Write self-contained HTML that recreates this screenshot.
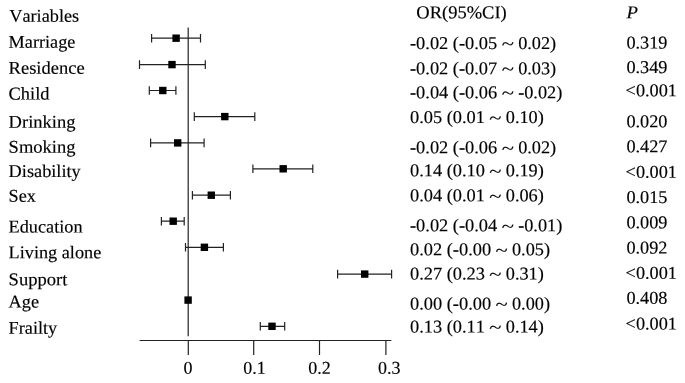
<!DOCTYPE html>
<html lang="en"><head><meta charset="utf-8"><title>Forest plot</title>
<style>
html,body{margin:0;padding:0;background:#fff;}
body{width:685px;height:383px;overflow:hidden;}
svg{display:block;}
text{font-family:"Liberation Serif",serif;font-size:18px;fill:#000;stroke:#000;stroke-width:0.16px;font-kerning:none;}
.l{stroke:#222;stroke-width:1.2;fill:none;}
</style></head><body>
<svg width="685" height="383" viewBox="0 0 685 383">
<rect width="685" height="383" fill="#fff"/>

<text transform="translate(9.30 21.75) rotate(0.05) scale(1.013 1)">Variables</text>
<text transform="translate(416.30 18.15) rotate(0.05) scale(1.028 1)">OR(95%CI)</text>
<text transform="translate(626.60 18.35) rotate(0.05) scale(1.040 1)" font-style="italic">P</text>
<line class="l" x1="188.2" y1="27.6" x2="188.2" y2="336.2"/>
<line class="l" x1="139.6" y1="340.5" x2="391.3" y2="340.5"/>
<line class="l" x1="188.3" y1="340.5" x2="188.3" y2="355"/>
<text transform="translate(187.90 373.65) rotate(0.05) scale(1.000 1)" text-anchor="middle">0</text>
<line class="l" x1="253.7" y1="340.5" x2="253.7" y2="355"/>
<text transform="translate(254.40 373.65) rotate(0.05) scale(1.000 1)" text-anchor="middle">0.1</text>
<line class="l" x1="319.5" y1="340.5" x2="319.5" y2="355"/>
<text transform="translate(319.50 373.65) rotate(0.05) scale(1.000 1)" text-anchor="middle">0.2</text>
<line class="l" x1="385.9" y1="340.5" x2="385.9" y2="355"/>
<text transform="translate(389.30 373.65) rotate(0.05) scale(1.000 1)" text-anchor="middle">0.3</text>
<text transform="translate(8.60 47.75) rotate(0.05) scale(1.013 1)">Marriage</text>
<path class="l" d="M151.6 38.2H200.5M151.6 33.9v8.6M200.5 33.9v8.6"/>
<rect x="172.4" y="34.5" width="7.4" height="7.4" fill="#000"/>
<text transform="translate(410.00 48.95) rotate(0.05) scale(1.021 1)">-0.02 (-0.05</text>
<text transform="translate(501.69 49.85) rotate(0.05) scale(1.250 1)">~</text>
<text transform="translate(518.16 48.95) rotate(0.05) scale(1.015 1)">0.02)</text>
<text transform="translate(626.40 48.50) rotate(0.05) scale(1.015 1)">0.319</text>
<text transform="translate(8.60 73.65) rotate(0.05) scale(1.029 1)">Residence</text>
<path class="l" d="M139.5 64.6H205.3M139.5 60.3v8.6M205.3 60.3v8.6"/>
<rect x="168.3" y="60.9" width="7.4" height="7.4" fill="#000"/>
<text transform="translate(410.00 74.15) rotate(0.05) scale(1.021 1)">-0.02 (-0.07</text>
<text transform="translate(501.69 75.05) rotate(0.05) scale(1.250 1)">~</text>
<text transform="translate(518.16 74.15) rotate(0.05) scale(1.015 1)">0.03)</text>
<text transform="translate(626.40 73.05) rotate(0.05) scale(1.015 1)">0.349</text>
<text transform="translate(8.60 99.55) rotate(0.05) scale(1.023 1)">Child</text>
<path class="l" d="M149.3 90.5H175.9M149.3 86.2v8.6M175.9 86.2v8.6"/>
<rect x="159.1" y="86.8" width="7.4" height="7.4" fill="#000"/>
<text transform="translate(410.00 98.15) rotate(0.05) scale(1.021 1)">-0.04 (-0.06</text>
<text transform="translate(501.69 99.05) rotate(0.05) scale(1.250 1)">~</text>
<text transform="translate(518.16 98.15) rotate(0.05) scale(1.015 1)">-0.02)</text>
<text transform="translate(625.60 96.25) rotate(0.05) scale(1.015 1)">&lt;0.001</text>
<text transform="translate(8.60 127.65) rotate(0.05) scale(1.029 1)">Drinking</text>
<path class="l" d="M194.3 116.6H254.8M194.3 112.3v8.6M254.8 112.3v8.6"/>
<rect x="221.1" y="112.9" width="7.4" height="7.4" fill="#000"/>
<text transform="translate(410.00 123.05) rotate(0.05) scale(1.021 1)">0.05 (0.01</text>
<text transform="translate(489.31 123.95) rotate(0.05) scale(1.250 1)">~</text>
<text transform="translate(505.78 123.05) rotate(0.05) scale(1.015 1)">0.10)</text>
<text transform="translate(626.40 127.25) rotate(0.05) scale(1.015 1)">0.020</text>
<text transform="translate(8.60 152.65) rotate(0.05) scale(1.029 1)">Smoking</text>
<path class="l" d="M150.6 142.9H204.1M150.6 138.6v8.6M204.1 138.6v8.6"/>
<rect x="174.0" y="139.2" width="7.4" height="7.4" fill="#000"/>
<text transform="translate(410.00 153.25) rotate(0.05) scale(1.021 1)">-0.02 (-0.06</text>
<text transform="translate(501.69 154.15) rotate(0.05) scale(1.250 1)">~</text>
<text transform="translate(518.16 153.25) rotate(0.05) scale(1.015 1)">0.02)</text>
<text transform="translate(626.40 152.25) rotate(0.05) scale(1.015 1)">0.427</text>
<text transform="translate(8.60 176.95) rotate(0.05) scale(1.017 1)">Disability</text>
<path class="l" d="M252.9 168.8H312.8M252.9 164.5v8.6M312.8 164.5v8.6"/>
<rect x="279.5" y="165.1" width="7.4" height="7.4" fill="#000"/>
<text transform="translate(410.00 176.25) rotate(0.05) scale(1.021 1)">0.14 (0.10</text>
<text transform="translate(489.31 177.15) rotate(0.05) scale(1.250 1)">~</text>
<text transform="translate(505.78 176.25) rotate(0.05) scale(1.015 1)">0.19)</text>
<text transform="translate(625.60 177.75) rotate(0.05) scale(1.015 1)">&lt;0.001</text>
<text transform="translate(8.60 201.65) rotate(0.05) scale(1.013 1)">Sex</text>
<path class="l" d="M192.4 195.2H230.4M192.4 190.9v8.6M230.4 190.9v8.6"/>
<rect x="207.6" y="191.5" width="7.4" height="7.4" fill="#000"/>
<text transform="translate(410.00 201.25) rotate(0.05) scale(1.021 1)">0.04 (0.01</text>
<text transform="translate(489.31 202.15) rotate(0.05) scale(1.250 1)">~</text>
<text transform="translate(505.78 201.25) rotate(0.05) scale(1.015 1)">0.06)</text>
<text transform="translate(626.40 203.00) rotate(0.05) scale(1.015 1)">0.015</text>
<text transform="translate(8.60 232.45) rotate(0.05) scale(1.013 1)">Education</text>
<path class="l" d="M161.4 221.2H184.2M161.4 216.9v8.6M184.2 216.9v8.6"/>
<rect x="169.5" y="217.5" width="7.4" height="7.4" fill="#000"/>
<text transform="translate(410.00 231.25) rotate(0.05) scale(1.021 1)">-0.02 (-0.04</text>
<text transform="translate(501.69 232.15) rotate(0.05) scale(1.250 1)">~</text>
<text transform="translate(518.16 231.25) rotate(0.05) scale(1.015 1)">-0.01)</text>
<text transform="translate(626.40 228.25) rotate(0.05) scale(1.015 1)">0.009</text>
<text transform="translate(8.60 258.15) rotate(0.05) scale(1.013 1)">Living alone</text>
<path class="l" d="M185.5 247.3H223.4M185.5 243.0v8.6M223.4 243.0v8.6"/>
<rect x="200.7" y="243.6" width="7.4" height="7.4" fill="#000"/>
<text transform="translate(410.00 255.25) rotate(0.05) scale(1.021 1)">0.02 (-0.00</text>
<text transform="translate(495.50 256.15) rotate(0.05) scale(1.250 1)">~</text>
<text transform="translate(511.97 255.25) rotate(0.05) scale(1.015 1)">0.05)</text>
<text transform="translate(626.40 253.50) rotate(0.05) scale(1.015 1)">0.092</text>
<text transform="translate(8.60 285.15) rotate(0.05) scale(1.031 1)">Support</text>
<path class="l" d="M337.6 274.1H391.6M337.6 269.8v8.6M391.6 269.8v8.6"/>
<rect x="361.0" y="270.4" width="7.4" height="7.4" fill="#000"/>
<text transform="translate(410.00 279.45) rotate(0.05) scale(1.021 1)">0.27 (0.23</text>
<text transform="translate(489.31 280.35) rotate(0.05) scale(1.250 1)">~</text>
<text transform="translate(505.78 279.45) rotate(0.05) scale(1.015 1)">0.31)</text>
<text transform="translate(625.60 278.75) rotate(0.05) scale(1.015 1)">&lt;0.001</text>
<text transform="translate(8.60 307.45) rotate(0.05) scale(1.013 1)">Age</text>
<rect x="184.4" y="296.4" width="7.4" height="7.4" fill="#000"/>
<text transform="translate(410.00 309.45) rotate(0.05) scale(1.021 1)">0.00 (-0.00</text>
<text transform="translate(495.50 310.35) rotate(0.05) scale(1.250 1)">~</text>
<text transform="translate(511.97 309.45) rotate(0.05) scale(1.015 1)">0.00)</text>
<text transform="translate(626.40 303.75) rotate(0.05) scale(1.015 1)">0.408</text>
<text transform="translate(8.60 333.75) rotate(0.05) scale(1.013 1)">Frailty</text>
<path class="l" d="M260.3 326.3H284.7M260.3 322.0v8.6M284.7 322.0v8.6"/>
<rect x="268.3" y="322.6" width="7.4" height="7.4" fill="#000"/>
<text transform="translate(410.00 332.45) rotate(0.05) scale(1.021 1)">0.13 (0.11</text>
<text transform="translate(489.31 333.35) rotate(0.05) scale(1.250 1)">~</text>
<text transform="translate(505.78 332.45) rotate(0.05) scale(1.015 1)">0.14)</text>
<text transform="translate(625.60 329.50) rotate(0.05) scale(1.015 1)">&lt;0.001</text>
</svg></body></html>
